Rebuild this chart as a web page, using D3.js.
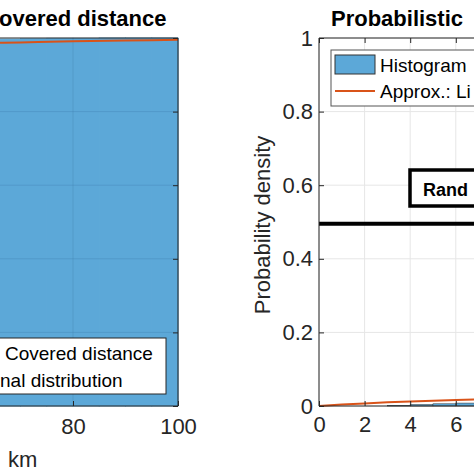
<!DOCTYPE html><html><head><script src="https://cdn.jsdelivr.net/npm/d3@7"></script>
<style>body{margin:0;background:#fff;overflow:hidden}text{font-family:Arial,"Liberation Sans",sans-serif}</style></head><body>
<script>
const leftTicksX=[80,100];
const leftHist=[0.97,0.975,0.98,0.983,0.985,0.987,0.989,0.99,0.992,0.993,0.994,0.995,0.996,0.997,0.998,0.999,0.999,1,1,1];
const leftCdfX=[0,20,40,60,70,80,90,100];
const leftCdfY=[0.955,0.968,0.978,0.985,0.988,0.991,0.993,0.995];
const rightTicksX=[0,2,4,6,8,10];
const rightTicksY=[0,0.2,0.4,0.6,0.8,1];
const rightHistX=[3,4,5,6,7,8];
const rightHistY=[0.002,0.004,0.006,0.008,0.01,0.012];
const rightPdfX=[0,1,2,3,4,5,6,7,8];
const rightPdfY=[0,0.004,0.007,0.01,0.012,0.014,0.016,0.018,0.02];
const thresh=0.495;
const W=474,H=474;
const svg=d3.select("body").append("svg").attr("width",W).attr("height",H);
const blue="#5ca8d8",orange="#d95319";
const lx=d3.scaleLinear().domain([0,100]).range([-347,178]);
const ly=d3.scaleLinear().domain([0,1]).range([406,38]);
const gl=svg.append("g");
const bw=5;
gl.selectAll("rect.h").data(leftHist).join("rect").attr("x",(d,i)=>lx(i*bw)).attr("width",lx(bw)-lx(0)).attr("y",d=>ly(d)).attr("height",d=>ly(0)-ly(d)).attr("fill",blue).attr("stroke",blue);
[0,20,40,60,80,100].forEach(t=>gl.append("line").attr("x1",lx(t)).attr("x2",lx(t)).attr("y1",38).attr("y2",406).attr("stroke","#3f7fae").attr("stroke-opacity",0.35));
[0.2,0.4,0.6,0.8].forEach(t=>gl.append("line").attr("x1",-5).attr("x2",178).attr("y1",ly(t)).attr("y2",ly(t)).attr("stroke","#3f7fae").attr("stroke-opacity",0.35));
gl.append("path").datum(leftCdfX.map((x,i)=>[x,leftCdfY[i]])).attr("d",d3.line().x(d=>lx(d[0])).y(d=>ly(d[1])).curve(d3.curveMonotoneX)).attr("fill","none").attr("stroke",orange).attr("stroke-width",2);
gl.append("g").attr("transform","translate(0,406)").call(d3.axisBottom(lx).tickValues(leftTicksX).tickSize(-5).tickPadding(12)).call(g=>{g.select(".domain").remove();g.selectAll("text").attr("font-size",22).attr("fill","#262626");g.selectAll("line").attr("stroke","#262626")});
gl.append("g").attr("transform","translate(178,0)").call(d3.axisLeft(ly).tickValues(rightTicksY).tickSize(5).tickFormat("")).call(g=>{g.select(".domain").remove();g.selectAll("line").attr("stroke","#262626")});
gl.append("line").attr("x1",-5).attr("x2",178).attr("y1",406).attr("y2",406).attr("stroke","#262626");
gl.append("line").attr("x1",178).attr("x2",178).attr("y1",38).attr("y2",406).attr("stroke","#262626");
gl.append("line").attr("x1",-5).attr("x2",178).attr("y1",38).attr("y2",38).attr("stroke","#262626");
gl.append("rect").attr("x",-200).attr("y",338).attr("width",366).attr("height",56).attr("fill","#fff").attr("stroke","#262626");
gl.append("text").attr("x",5).attr("y",360).attr("font-size",19).text("Covered distance");
gl.append("text").attr("x",0).attr("y",387).attr("font-size",19).text("nal distribution");
gl.append("text").attr("x",-1).attr("y",26).attr("font-size",22).attr("font-weight","bold").text("overed distance");
gl.append("text").attr("x",8).attr("y",467).attr("font-size",22).attr("fill","#262626").text("km");
const rx=d3.scaleLinear().domain([0,1]).range([319,341.8]);
const ry=d3.scaleLinear().domain([0,1]).range([406,38]);
const gr=svg.append("g");
rightTicksX.forEach(t=>gr.append("line").attr("x1",rx(t)).attr("x2",rx(t)).attr("y1",38).attr("y2",406).attr("stroke","#e6e6e6"));
rightTicksY.forEach(t=>gr.append("line").attr("x1",319).attr("x2",480).attr("y1",ry(t)).attr("y2",ry(t)).attr("stroke","#e6e6e6"));
gr.selectAll("rect.h").data(rightHistX).join("rect").attr("x",d=>rx(d)).attr("width",rx(1)-rx(0)).attr("y",(d,i)=>ry(rightHistY[i])).attr("height",(d,i)=>ry(0)-ry(rightHistY[i])).attr("fill",blue).attr("stroke","#333").attr("stroke-width",0.5);
gr.append("path").datum(rightPdfX.map((x,i)=>[x,rightPdfY[i]])).attr("d",d3.line().x(d=>rx(d[0])).y(d=>ry(d[1]))).attr("fill","none").attr("stroke",orange).attr("stroke-width",2);
gr.append("line").attr("x1",319).attr("x2",480).attr("y1",ry(thresh)).attr("y2",ry(thresh)).attr("stroke","#000").attr("stroke-width",4);
gr.append("g").attr("transform","translate(0,406)").call(d3.axisBottom(rx).tickValues(rightTicksX.filter(t=>t<8)).tickSize(-5).tickPadding(10).tickFormat(d3.format("~g"))).call(g=>{g.select(".domain").remove();g.selectAll("text").attr("font-size",22).attr("fill","#262626");g.selectAll("line").attr("stroke","#262626")});
gr.append("g").attr("transform","translate(319,0)").call(d3.axisLeft(ry).tickValues(rightTicksY).tickSize(-5).tickPadding(6).tickFormat(d3.format("~g"))).call(g=>{g.select(".domain").remove();g.selectAll("text").attr("font-size",22).attr("fill","#262626");g.selectAll("line").attr("stroke","#262626")});
gr.append("g").attr("transform","translate(0,38)").call(d3.axisBottom(rx).tickValues(rightTicksX).tickSize(5).tickFormat("")).call(g=>{g.select(".domain").remove();g.selectAll("line").attr("stroke","#262626")});
gr.append("line").attr("x1",319).attr("x2",480).attr("y1",406).attr("y2",406).attr("stroke","#262626");
gr.append("line").attr("x1",319).attr("x2",480).attr("y1",38).attr("y2",38).attr("stroke","#262626");
gr.append("line").attr("x1",319).attr("x2",319).attr("y1",38).attr("y2",406).attr("stroke","#262626");
gr.append("rect").attr("x",331).attr("y",50).attr("width",200).attr("height",56).attr("fill","#fff").attr("stroke","#555");
gr.append("rect").attr("x",335).attr("y",55).attr("width",40).attr("height",19).attr("fill",blue).attr("stroke","#333");
gr.append("line").attr("x1",335).attr("x2",375).attr("y1",91).attr("y2",91).attr("stroke",orange).attr("stroke-width",2);
gr.append("text").attr("x",380).attr("y",72).attr("font-size",19).text("Histogram");
gr.append("text").attr("x",380).attr("y",98).attr("font-size",19).text("Approx.: Li");
gr.append("rect").attr("x",410).attr("y",170).attr("width",100).attr("height",36).attr("fill","#fff").attr("stroke","#000").attr("stroke-width",3.5);
gr.append("text").attr("x",423).attr("y",196).attr("font-size",18).attr("font-weight","bold").text("Rand");
gr.append("text").attr("x",331).attr("y",26).attr("font-size",22).attr("font-weight","bold").text("Probabilistic");
gr.append("text").attr("transform","translate(270,225) rotate(-90)").attr("text-anchor","middle").attr("font-size",22).attr("fill","#262626").text("Probability density");
</script></body></html>
